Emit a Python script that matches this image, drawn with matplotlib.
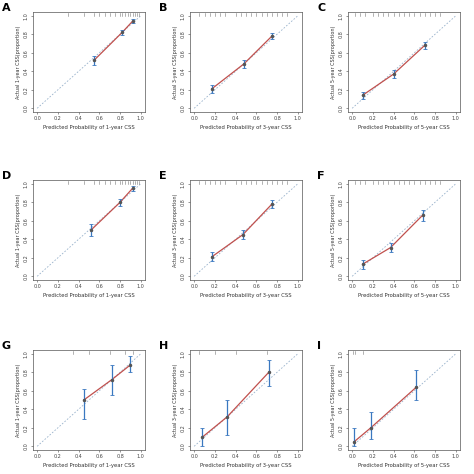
import matplotlib.pyplot as plt

labels = ["A", "B", "C", "D", "E", "F", "G", "H", "I"]
years = ["1", "3", "5"] * 3

pred = [
    [0.55, 0.82, 0.92], [0.17, 0.48, 0.75], [0.10, 0.40, 0.70],
    [0.52, 0.80, 0.92], [0.17, 0.47, 0.75], [0.10, 0.37, 0.68],
    [0.45, 0.72, 0.90], [0.08, 0.32, 0.72], [0.02, 0.18, 0.62],
]
actual = [
    [0.52, 0.82, 0.94], [0.21, 0.48, 0.78], [0.14, 0.37, 0.68],
    [0.50, 0.80, 0.95], [0.21, 0.45, 0.78], [0.13, 0.31, 0.66],
    [0.50, 0.72, 0.88], [0.10, 0.32, 0.80], [0.05, 0.20, 0.64],
]
err_lo = [
    [0.05, 0.03, 0.02], [0.04, 0.04, 0.03], [0.04, 0.04, 0.04],
    [0.06, 0.04, 0.03], [0.05, 0.05, 0.04], [0.05, 0.05, 0.06],
    [0.20, 0.17, 0.08], [0.10, 0.20, 0.15], [0.05, 0.12, 0.14],
]
err_hi = [
    [0.05, 0.03, 0.02], [0.04, 0.04, 0.03], [0.04, 0.04, 0.04],
    [0.06, 0.04, 0.03], [0.05, 0.05, 0.04], [0.05, 0.05, 0.06],
    [0.12, 0.16, 0.10], [0.10, 0.18, 0.13], [0.15, 0.17, 0.18],
]
rug = [
    [0.3, 0.45, 0.55, 0.6, 0.65, 0.7, 0.75, 0.8, 0.82, 0.85, 0.88, 0.9, 0.92, 0.94, 0.96, 0.98],
    [0.05, 0.1, 0.15, 0.2, 0.25, 0.3, 0.4, 0.45, 0.5, 0.55, 0.6, 0.65, 0.7, 0.75, 0.8, 0.85, 0.9],
    [0.03, 0.08, 0.12, 0.2, 0.25, 0.3, 0.35, 0.4, 0.45, 0.5, 0.55, 0.6, 0.65, 0.7, 0.75, 0.8, 0.85],
    [0.3, 0.45, 0.55, 0.6, 0.65, 0.7, 0.75, 0.8, 0.82, 0.85, 0.88, 0.9, 0.92, 0.94, 0.96, 0.98],
    [0.05, 0.1, 0.15, 0.2, 0.25, 0.3, 0.4, 0.45, 0.5, 0.55, 0.6, 0.65, 0.7, 0.75, 0.8, 0.85, 0.9],
    [0.03, 0.08, 0.12, 0.2, 0.25, 0.3, 0.35, 0.4, 0.45, 0.5, 0.55, 0.6, 0.65, 0.7, 0.75, 0.8, 0.85],
    [0.35, 0.5, 0.7, 0.85, 0.92],
    [0.05, 0.2, 0.4, 0.7],
    [0.01, 0.03, 0.1],
]

fig = plt.figure(figsize=(4.74, 4.74), dpi=100)
lefts = [33, 190, 348]
tops = [12, 180, 350]
W, H = 112, 100
ticks = [0, 0.2, 0.4, 0.6, 0.8, 1.0]
for i in range(9):
    r, c = divmod(i, 3)
    ax = fig.add_axes([lefts[c] / 474, 1 - (tops[r] + H) / 474, W / 474, H / 474])
    ax.plot([0, 1], [0, 1], ls=(0, (2, 2)), color="#9ab3cc", lw=0.6)
    for v in rug[i]:
        ax.plot([v, v], [1.0, 1.03], color="#777777", lw=0.4)
    ax.plot(pred[i], actual[i], color="#c0504d", lw=0.9)
    ax.errorbar(pred[i], actual[i], yerr=[err_lo[i], err_hi[i]], fmt="o", ms=1.5,
                color="#3a78c0", mfc="#555555", mec="#555555", elinewidth=0.9, capsize=1.2, capthick=0.6)
    ax.set_xlim(-0.04, 1.04)
    ax.set_ylim(-0.04, 1.04)
    ax.set_xticks(ticks)
    ax.set_yticks(ticks)
    ax.set_xticklabels([f"{t:.1f}" for t in ticks], fontsize=3.5)
    ax.set_yticklabels([f"{t:.1f}" for t in ticks], fontsize=3.5, rotation=90, va="center")
    ax.tick_params(length=1.5, width=0.4, pad=1.5, colors="#444444")
    for s in ax.spines.values():
        s.set_linewidth(0.5)
        s.set_color("#555555")
    ax.set_xlabel(f"Predicted Probability of {years[i]}-year CSS", fontsize=3.8, labelpad=3, color="#333333")
    ax.set_ylabel(f"Actual {years[i]}-year CSS(proportion)", fontsize=3.5, labelpad=2, color="#333333")
    fig.text((lefts[c] - 31) / 474, 1 - (tops[r] - 4) / 474, labels[i], fontsize=8, fontweight="bold", va="center")

fig.savefig("out.png", dpi=100, facecolor="white")
